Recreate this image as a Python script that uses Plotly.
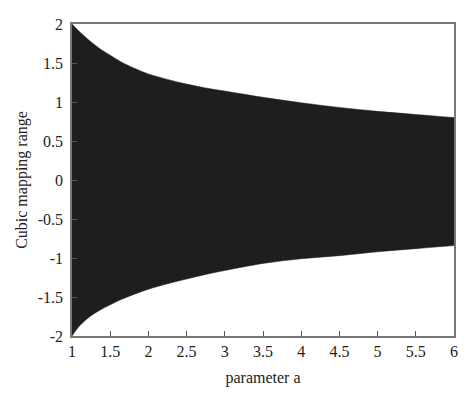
import plotly.graph_objects as go

a_vals = [1.0, 1.1, 1.25, 1.4, 1.5, 1.65, 1.8, 2.0, 2.25, 2.5, 2.75, 3.0, 3.5, 4.0, 4.5, 5.0, 5.5, 6.0]
upper = [2.0, 1.90, 1.77, 1.66, 1.60, 1.51, 1.44, 1.36, 1.29, 1.23, 1.18, 1.14, 1.06, 0.99, 0.93, 0.88, 0.84, 0.80]
lower = [-2.0, -1.87, -1.74, -1.65, -1.60, -1.53, -1.47, -1.40, -1.33, -1.27, -1.21, -1.16, -1.07, -1.01, -0.97, -0.92, -0.88, -0.84]

x_ticks = [1, 1.5, 2, 2.5, 3, 3.5, 4, 4.5, 5, 5.5, 6]
x_tick_text = ["1", "1.5", "2", "2.5", "3", "3.5", "4", "4.5", "5", "5.5", "6"]
y_ticks = [-2, -1.5, -1, -0.5, 0, 0.5, 1, 1.5, 2]
y_tick_text = ["-2", "-1.5", "-1", "-0.5", "0", "0.5", "1", "1.5", "2"]

fill_color = "#1e1e1e"
font_family = "Liberation Serif, DejaVu Serif, serif"

fig = go.Figure()
fig.add_trace(go.Scatter(x=a_vals, y=lower, mode="lines",
                         line=dict(color=fill_color, width=0.5, shape="spline", smoothing=1.0),
                         showlegend=False))
fig.add_trace(go.Scatter(x=a_vals, y=upper, mode="lines", fill="tonexty",
                         fillcolor=fill_color,
                         line=dict(color=fill_color, width=0.5, shape="spline", smoothing=1.0),
                         showlegend=False))

fig.update_layout(
    width=458, height=384,
    margin=dict(l=64, r=8, t=11, b=52),
    paper_bgcolor="white", plot_bgcolor="white",
    font=dict(family=font_family, size=16, color="#222"),
)
fig.update_xaxes(
    range=[1, 6], tickvals=x_ticks, ticktext=x_tick_text,
    showgrid=False, zeroline=False,
    showline=True, linecolor="#777", linewidth=1.5, mirror=True,
    ticks="inside", ticklen=5, tickcolor="#555", tickwidth=1,
    title=dict(text="parameter a", standoff=13, font=dict(size=16)),
)
fig.update_yaxes(
    range=[-2, 2], tickvals=y_ticks, ticktext=y_tick_text,
    showgrid=False, zeroline=False,
    showline=True, linecolor="#777", linewidth=1.5, mirror=True,
    ticks="inside", ticklen=5, tickcolor="#555", tickwidth=1,
    ticklabelstandoff=4,
    title=dict(text="Cubic mapping range", standoff=6, font=dict(size=16)),
)

fig.write_html("out.html")
